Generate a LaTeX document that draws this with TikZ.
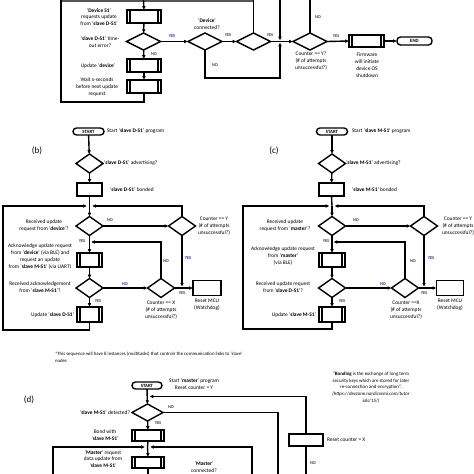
\documentclass[tikz,border=0pt]{standalone}
\usepackage{fontspec}
\setmainfont{Carlito}
\usetikzlibrary{shapes.geometric,arrows.meta}
\definecolor{ynblue}{RGB}{40,60,140}
\definecolor{barg}{RGB}{85,85,85}
\begin{document}
\begin{tikzpicture}[x=1pt,y=-1pt,
  every node/.style={inner sep=0pt, outer sep=0pt},
  ln/.style={line width=1.4pt},
  arr/.style={line width=1.4pt,-{Latex[length=3.8pt,width=3.8pt]}},
  diaA/.style={diamond, draw, line width=1.4pt, minimum width=34pt, minimum height=17pt},
  diaB/.style={diamond, draw, line width=1.4pt, minimum width=27pt, minimum height=19pt},
  diaD/.style={diamond, draw, line width=1.4pt, minimum width=31pt, minimum height=17pt},
  rbox/.style={draw, line width=1.4pt},
  proc/.style={rbox, path picture={
      \draw[line width=1.1pt] ([xshift=3pt]path picture bounding box.north west) -- ([xshift=3pt]path picture bounding box.south west);
      \draw[line width=1.1pt] ([xshift=-3pt]path picture bounding box.north east) -- ([xshift=-3pt]path picture bounding box.south east);}},
  term/.style={draw, line width=1.4pt, rounded corners=3.5pt, font=\bfseries\fontsize{4.8}{5}\selectfont},
  txt/.style={font=\fontsize{5.4}{6.9}\selectfont, align=center},
  yn/.style={font=\bfseries\fontsize{4.4}{5}\selectfont, text=ynblue},
  ttl/.style={font=\fontsize{9}{10}\selectfont}
]
\useasboundingbox (0,0) rectangle (474,474);

% ---------------- (a) ----------------
\draw[line width=2.4pt, barg] (60,1) -- (253,1);
\coordinate (atop) at (143.5,0);
\coordinate (aLa) at (144,102);
\coordinate (aLb) at (61,102);
\coordinate (aLc) at (61,0);
\node[proc, minimum width=34pt, minimum height=13pt] (a1) at (144,16.5) {};
\node[txt] (a1t) at (99,17) {`\textbf{Device S1}'\\requests update\\from `\textbf{slave D-S1}'};
\node[diaA] (a2) at (143.5,41.5) {};
\node[txt] (a2t) at (100,42.5) {`\textbf{slave D-S1}' time-\\out error?};
\node[proc, minimum width=34pt, minimum height=13pt] (a3) at (144,65.5) {};
\node[txt] (a3t) at (98,65.5) {Update `\textbf{device}'};
\node[proc, minimum width=34pt, minimum height=13pt] (a4) at (144,86.5) {};
\node[txt] (a4t) at (97,87) {Wait x-seconds\\before next update\\request};
\node[diaA] (a5) at (205,41.5) {};
\node[txt] (a5t) at (207,24) {`\textbf{Device}'\\connected?};
\node[diaA] (a6) at (253.5,41.5) {};
\coordinate (a6top) at (253.5,0);
\coordinate (aj) at (280,41.5);
\coordinate (ajtop) at (280,0);
\coordinate (ajbot) at (280,78);
\node[diaA] (a7) at (310,41.5) {};
\coordinate (a7top) at (310,0);
\node[txt] (a7t) at (311,61) {Counter == Y?\\(\# of attempts\\unsuccessful?)};
\node[proc, minimum width=35pt, minimum height=12pt] (a8) at (366.5,41) {};
\node[txt] (a8t) at (367,65.5) {Firmware\\will initiate\\device OS\\shutdown};
\node[term, minimum width=35pt, minimum height=8pt] (a9) at (414.5,41) {END};

\draw[arr] (atop) -- (a1.north);
\draw[arr] (a1) -- (a2);
\draw[arr] (a2) -- (a3);
\node[yn] at (154,54) {NO};
\draw[arr] (a3) -- (a4);
\draw[ln] (a4.south) -- (aLa) -- (aLb) -- (aLc);
\draw[arr] (a2.east) -- (a5.west);
\node[yn] at (172,36) {YES};
\draw[arr] (a5.east) -- (a6.west);
\node[yn] at (228,35.5) {YES};
\draw[ln] (a6.north) -- (a6top);
\draw[ln] (a6.east) -- (aj);
\node[yn] at (270,35.5) {YES};
\draw[arr] (ajtop) -- ([yshift=1pt]aj);
\draw[arr] (a5.south) |- (ajbot) -- ([yshift=-1pt]aj);
\node[yn] at (215,65) {NO};
\draw[arr] (aj) -- (a7.west);
\draw[ln] (a7.north) -- (a7top);
\node[yn] at (318,17) {NO};
\draw[arr] (a7.east) -- (a8.west);
\node[yn] at (336,36) {YES};
\draw[arr] (a8.east) -- (a9.west);

% ---------------- (b) ----------------
\node[ttl] (bl) at (37,151) {(b)};
\node[term, minimum width=31pt, minimum height=7pt] (b0) at (88.5,131.5) {START};
\node[txt, anchor=west] (b0t) at (107,131.5) {Start `\textbf{slave D-S1}' program};
\node[diaB] (b1) at (89.5,163.5) {};
\node[txt, anchor=west] (b1t) at (104,163.5) {`\textbf{slave D-S1}' advertising?};
\node[rbox, minimum width=25pt, minimum height=13pt] (b2) at (89.5,189.5) {};
\node[txt, anchor=west] (b2t) at (110,190) {`\textbf{slave D-S1}' bonded};
\coordinate (bm) at (89.5,206);
\node[diaB] (b3) at (89.5,226) {};
\node[txt] (b3t) at (44,225.5) {Received update\\request from `\textbf{device}'?};
\node[diaB] (b4) at (182,226) {};
\node[txt] (b4t) at (214,226) {Counter == Y\\(\# of attempts\\unsuccessful?)};
\node[proc, minimum width=25pt, minimum height=14pt] (b5) at (89.5,260) {};
\node[txt] (b5t) at (40,256.5) {Acknowledge update request\\from `\textbf{device}' (via BLE) and\\request an update\\from `\textbf{slave M-S1}' (via UART)};
\node[diaB] (b6) at (89.5,288) {};
\node[txt] (b6t) at (40,287.5) {Received acknowledgement\\from `\textbf{slave M-S1}'?};
\node[diaB] (b7) at (161,288) {};
\node[txt] (b7t) at (161,310) {Counter == X\\(\# of attempts\\unsuccessful?)};
\coordinate (bj) at (182,288);
\node[rbox, minimum width=28pt, minimum height=15pt] (b8) at (207,288) {};
\node[txt] (b8t) at (207,305) {Reset MCU\\(Watchdog)};
\node[proc, minimum width=25pt, minimum height=15pt] (b9) at (89.5,314.5) {};
\node[txt, anchor=east] (b9t) at (74,315) {Update `\textbf{slave D-S1}'};
\coordinate (bL1) at (89.5,330);
\coordinate (bL2) at (3,330);
\coordinate (bL3) at (3,206);
\coordinate (bK) at (91,242);

\draw[arr] (b0) -- (b1);
\draw[arr] (b1) -- (b2);
\draw[ln] (b2.south) -- (bm);
\draw[arr] (bm) -- (b3.north);
\draw[arr] (b3.east) -- (b4.west);
\node[yn] at (110,220) {NO};
\draw[arr] (b4.north) |- ([xshift=2.5pt]bm);
\draw[arr] (b9.south) -- (bL1) -- (bL2) -- (bL3) -- ([xshift=-2.5pt]bm);
\draw[arr] (b3.south) -- (b5.north);
\node[yn] at (82,241) {YES};
\draw[arr] (b7.north) |- (bK);
\node[yn] at (166,261) {NO};
\draw[arr] (b5) -- (b6);
\draw[arr] (b6.east) -- (b7.west);
\node[yn] at (125,284) {NO};
\draw[arr] (b6.south) -- (b9.north);
\node[yn] at (98,301.5) {YES};
\draw[arr] (b4.south) -- ([yshift=1.2pt]bj);
\node[yn] at (188,258) {YES};
\draw[arr] (b7.east) -- (b8.west);
\node[yn] at (182,293) {YES};

% ---------------- (c) ----------------
\node[ttl] (cl) at (274,151) {(c)};
\node[term, minimum width=31pt, minimum height=7pt] (c0) at (332,131.5) {START};
\node[txt, anchor=west] (c0t) at (352,131.5) {Start `\textbf{slave M-S1}' program};
\node[diaB] (c1) at (332,163.5) {};
\node[txt, anchor=west] (c1t) at (346,163.5) {`\textbf{slave M-S1}' advertising?};
\node[rbox, minimum width=25pt, minimum height=13pt] (c2) at (331.5,189.5) {};
\node[txt, anchor=west] (c2t) at (352,190) {`\textbf{slave M-S1}' bonded};
\coordinate (cm) at (332,206);
\node[diaB] (c3) at (332,226) {};
\node[txt] (c3t) at (285,225.5) {Received update\\request from `\textbf{master}'?};
\node[diaB] (c4) at (424,226) {};
\node[txt] (c4t) at (458,226) {Counter == Y\\(\# of attempts\\unsuccessful?)};
\node[proc, minimum width=26pt, minimum height=14pt] (c5) at (332,260) {};
\node[txt] (c5t) at (283,256) {Acknowledge update request\\from `\textbf{master}'\\(via BLE)};
\node[diaB] (c6) at (332,288) {};
\node[txt] (c6t) at (283,287.5) {Received update request\\from `\textbf{slave D-S1}'?};
\node[diaB] (c7) at (405,288) {};
\node[txt] (c7t) at (406,310) {Counter ==X\\(\# of attempts\\unsuccessful?)};
\coordinate (cj) at (424,288);
\node[rbox, minimum width=27pt, minimum height=15pt] (c8) at (450,288) {};
\node[txt] (c8t) at (450,305) {Reset MCU\\(Watchdog)};
\node[proc, minimum width=26pt, minimum height=15pt] (c9) at (332,314.5) {};
\node[txt, anchor=east] (c9t) at (316,315) {Update `\textbf{slave M-S1}'};
\coordinate (cL1) at (332,329);
\coordinate (cL2) at (243,329);
\coordinate (cL3) at (243,206);
\coordinate (cK) at (333.5,242);

\draw[arr] (c0) -- (c1);
\draw[arr] (c1) -- (c2);
\draw[ln] (c2.south) -- (cm);
\draw[arr] (cm) -- (c3.north);
\draw[arr] (c3.east) -- (c4.west);
\node[yn] at (356,220) {NO};
\draw[arr] (c4.north) |- ([xshift=2.5pt]cm);
\draw[arr] (c9.south) -- (cL1) -- (cL2) -- (cL3) -- ([xshift=-2.5pt]cm);
\draw[arr] (c3.south) -- (c5.north);
\node[yn] at (326,241) {YES};
\draw[arr] (c7.north) |- (cK);
\node[yn] at (413,261) {NO};
\draw[arr] (c5) -- (c6);
\draw[arr] (c6.east) -- (c7.west);
\node[yn] at (383,284) {NO};
\draw[arr] (c6.south) -- (c9.north);
\node[yn] at (342,301.5) {YES};
\draw[arr] (c4.south) -- ([yshift=1.2pt]cj);
\node[yn] at (431,258) {YES};
\draw[arr] (c7.east) -- (c8.west);
\node[yn] at (424,293) {YES};

% footnote
\node[txt, anchor=north west, align=left, font=\fontsize{4.8}{6.6}\selectfont] (fn) at (55,352) {*This sequence will have 8 instances (multitasks) that controls the communication links to `slave'\\nodes};

% ---------------- (d) ----------------
\node[ttl] (dl) at (29,400) {(d)};
\node[term, minimum width=30pt, minimum height=7pt] (d0) at (147,385.5) {START};
\node[txt] (d0t) at (194,384.5) {Start `\textbf{master}' program\\Reset counter = Y};
\coordinate (dm1) at (147,396.5);
\node[diaD] (d1) at (147.5,412.5) {};
\node[txt, anchor=east] (d1t) at (130,412.5) {`\textbf{slave M-S1}' detected?};
\node[proc, minimum width=32pt, minimum height=11pt] (d2) at (148,435.5) {};
\node[txt] (d2t) at (105,435) {Bond with\\`\textbf{slave M-S1}'};
\coordinate (dm2) at (147.5,447);
\node[proc, minimum width=32pt, minimum height=11pt] (d3) at (148,462.5) {};
\node[txt] (d3t) at (103,459) {`\textbf{Master}' request\\data update from\\`\textbf{slave M-S1}'};
\node[txt] (d4t) at (204,467) {`\textbf{Master}'\\connected?};
\node[rbox, minimum width=34pt, minimum height=12pt] (d5) at (306,440) {};
\node[txt, anchor=west] (d5t) at (327,440) {Reset counter = X};
\node[txt, font=\fontsize{4.9}{6.9}\selectfont] (bq) at (371,387.5) {``\textbf{Bonding} is the exchange of long term\\security keys which are stored for later\\re-connection and encryption''.\\\textit{(https://devzone.nordicsemi.com/tutor}\\\textit{ials/15/)}};
\coordinate (d5b) at (306,474);
\coordinate (d1r) at (278,474);
\coordinate (dLl) at (53,474);
\coordinate (dLr) at (252,474);
\coordinate (d3b) at (148,474);

\draw[arr] (d0) -- (d1);
\draw[arr] (d5.north) |- ([xshift=2.5pt]dm1);
\draw[ln] (d5.south) -- (d5b);
\node[yn] at (313,463) {NO};
\draw[ln] (d1.east) -| (d1r);
\node[yn] at (171,407) {NO};
\draw[arr] (d1) -- (d2);
\node[yn] at (158,423) {YES};
\draw[ln] (d2.south) -- (dm2);
\draw[arr] (dm2) -- (d3.north);
\draw[arr] (dLl) |- ([xshift=-2.5pt]dm2);
\draw[arr] (dLr) |- ([xshift=2.5pt]dm2);
\draw[ln] (d3.south) -- (d3b);
\end{tikzpicture}
\end{document}
